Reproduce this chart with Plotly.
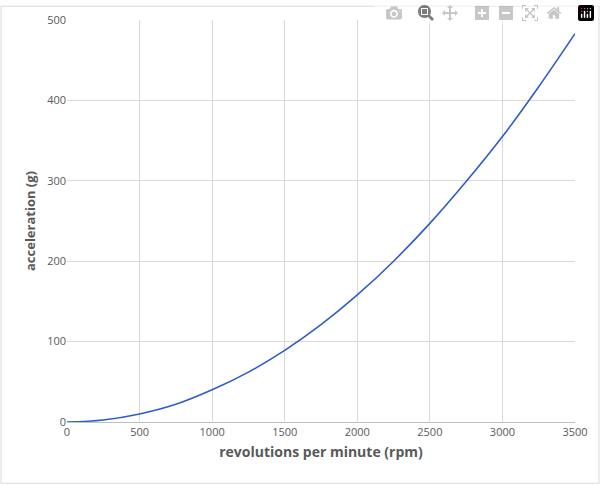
import plotly.graph_objects as go

rpm = [0, 250, 500, 750, 1000, 1250, 1500, 1750, 2000, 2250, 2500, 2750, 3000, 3250, 3500]
accel = [0, 2.5, 10, 22, 40, 62, 89, 121, 158, 200, 247, 299, 355, 417, 483]

fig = go.Figure(go.Scatter(x=rpm, y=accel, mode="lines", line=dict(color="#2E5CC8", width=1.6, shape="spline")))
fig.update_layout(
    width=600, height=485, autosize=False, paper_bgcolor="white", plot_bgcolor="white",
    margin=dict(l=67, r=25, t=15, b=63, pad=0), showlegend=False,
    font=dict(family="Open Sans, Liberation Sans, sans-serif", color="#595959", size=11),
    shapes=[dict(type="rect", xref="paper", yref="paper", x0=-66/508, x1=1 + 24/508, y0=-62/407, y1=1 + 14/407,
                 line=dict(color="#D9D9D9", width=1))],
)
fig.update_xaxes(range=[0, 3500], tickvals=list(range(0, 3501, 500)), showgrid=True, gridcolor="#D9D9D9",
                 zeroline=False, showline=True, linecolor="#BFBFBF", ticks="",
                 title=dict(text="<b>revolutions per minute (rpm)</b>", font=dict(size=14, color="#595959"), standoff=8))
fig.update_yaxes(range=[0, 500], tickvals=list(range(0, 501, 100)), showgrid=True, gridcolor="#D9D9D9",
                 zeroline=False, ticks="",
                 title=dict(text="<b>acceleration (g)</b>", font=dict(size=13, color="#595959"), standoff=8))
fig.write_html("out.html")
with open("out.html", encoding="utf-8") as f:
    html = f.read()
html = html.replace("<body>", '<body style="margin:0">', 1)
with open("out.html", "w", encoding="utf-8") as f:
    f.write(html)
